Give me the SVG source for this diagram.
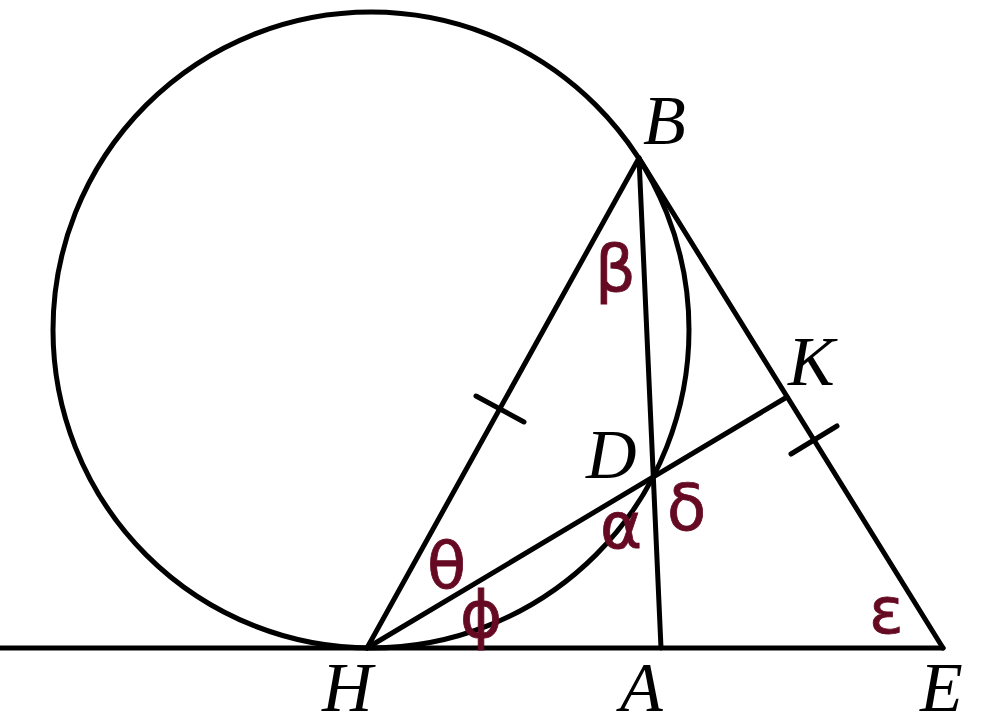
<svg xmlns="http://www.w3.org/2000/svg" width="989" height="727" viewBox="0 0 989 727">
<style>
.ln{stroke:#000;stroke-width:5;fill:none;stroke-linecap:round;stroke-linejoin:round}
.pt{font-family:"Liberation Serif","Times New Roman",serif;font-style:italic;font-size:70px;fill:#000}
.gk{font-family:"DejaVu Sans","Noto Sans",sans-serif;font-size:64px;fill:#650a22;stroke:#650a22;stroke-width:0.8}
</style>
<rect width="989" height="727" fill="#fff"/>
<g id="circle"><circle class="ln" cx="371" cy="330" r="318"/></g>
<g id="connectors">
<line class="ln" x1="0" y1="648" x2="943" y2="648"/>
<line class="ln" x1="639" y1="158" x2="367" y2="648"/>
<line class="ln" x1="639" y1="158" x2="943" y2="648"/>
<line class="ln" x1="639" y1="158" x2="661" y2="648"/>
<line class="ln" x1="367" y1="648" x2="787" y2="397"/>
<line class="ln" x1="476" y1="396" x2="524" y2="422"/>
<line class="ln" x1="791" y1="454" x2="837" y2="426"/>
</g>
<g id="B"><text class="pt" x="643" y="144">B</text></g>
<g id="H"><text class="pt" x="322" y="711">H</text></g>
<g id="A"><text class="pt" x="620" y="711">A</text></g>
<g id="E"><text class="pt" x="920" y="711">E</text></g>
<g id="K"><text class="pt" x="788" y="385">K</text></g>
<g id="D"><text class="pt" x="586" y="478">D</text></g>
<g id="angles">
<text class="gk" x="595" y="291">β</text>
<text class="gk" x="427" y="588">θ</text>
<text class="gk" x="460" y="637">ϕ</text>
<text class="gk" x="600" y="548">α</text>
<text class="gk" x="667" y="530">δ</text>
<text class="gk" x="869" y="633">ε</text>
</g>
</svg>
